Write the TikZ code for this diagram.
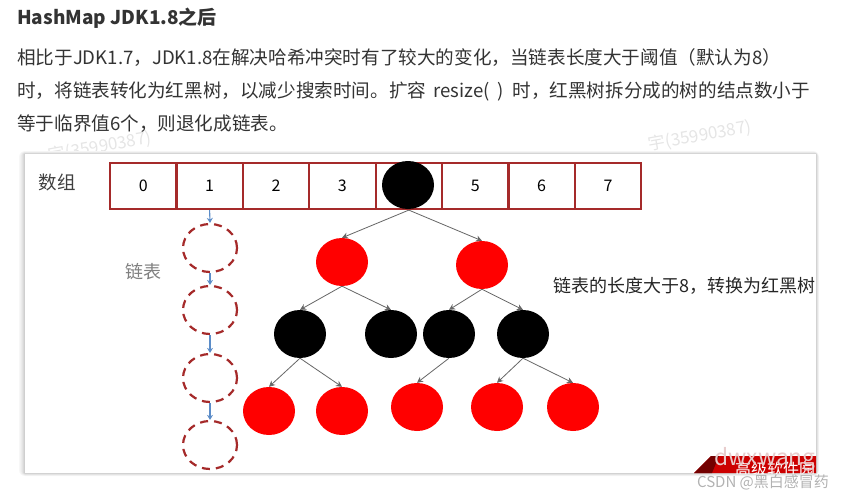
\documentclass[tikz,border=0pt]{standalone}
\usepackage{fontspec}
\setmainfont{Noto Sans CJK SC}
\usetikzlibrary{positioning}
\usetikzlibrary{arrows.meta}
\usetikzlibrary{shapes.geometric}
\definecolor{boxred}{RGB}{165,42,42}
\definecolor{linkblue}{RGB}{91,140,200}
\definecolor{inktext}{RGB}{51,51,51}
\definecolor{authorpink}{RGB}{232,205,205}
\tikzset{
    para/.style={anchor=west,inner sep=0pt,text=inktext,font=\fontsize{18.6}{20}\selectfont},
    cell/.style={draw=boxred,line width=2.2pt,minimum width=66.4pt,minimum height=46pt,inner sep=0pt},
    treenode/.style={ellipse,minimum width=52pt,minimum height=48pt,inner sep=0pt},
    blacknode/.style={treenode,fill=black},
    rednode/.style={treenode,fill=red},
    listnode/.style={ellipse,draw=boxred,line width=2.2pt,dash pattern=on 8pt off 6pt,minimum width=54pt,minimum height=48pt,inner sep=0pt},
    treeedge/.style={black!60,line width=.8pt,-{Stealth[length=6pt,width=6pt]}},
    listedge/.style={linkblue,line width=1.1pt,-{Stealth[length=5pt,width=6pt]}},
    faint/.style={text=black!10,font=\fontsize{17}{20}\selectfont,rotate=10}
}
\begin{document}
\begin{tikzpicture}[x=1pt,y=-1pt]
    \useasboundingbox (0,0) rectangle (841,498);

    % text above the figure
    \node[faint] (mark1) at (100,147) {宇(35990387)};
    \node[faint] (mark2) at (700,136) {宇(35990387)};
    \node[para,font=\fontsize{19}{20}\selectfont\bfseries] (title) at (17,18) {HashMap JDK1.8之后};
    \node[para] (line1) at (17,58) {相比于JDK1.7，JDK1.8在解决哈希冲突时有了较大的变化，当链表长度大于阈值（默认为8）};
    \node[para] (line2) at (17,91) {时，将链表转化为红黑树，以减少搜索时间。扩容\hspace{3pt} resize(\hspace{3pt} )\hspace{5pt} 时，红黑树拆分成的树的结点数小于};
    \node[para] (line3) at (17,124) {等于临界值6个，则退化成链表。};

    % slide
    \foreach \d/\g in {6/3,5/5,4/8,3/11,2/15,1/19}
        \fill[black!\g,rounded corners=\d pt] (25-\d,154-\d/2) rectangle (816+\d/2,473+\d/2);
    \fill[white] (25,154) rectangle (816,473);
    \fill[red!80!black] (711,456) -- (816,456) -- (816,473) -- (694,473) -- cycle;
    \fill[red!45!black] (711,456) -- (719,456) -- (712,473) -- (694,473) -- cycle;

    \node[font=\fontsize{18.5}{20}\selectfont,text=black!75] (arrlabel) at (57,182) {数组};
    \node[font=\fontsize{18}{20}\selectfont,text=black!50] (listlabel) at (143,272) {链表};
    \node[font=\fontsize{18}{20}\selectfont,text=black!85] (treelabel) at (684,286) {链表的长度大于8，转换为红黑树};

    % array
    \foreach \x in {0,...,7}
        \node[cell] (c\x) at (143.2 + 66.4 * \x, 186) {};
    \foreach \x in {0,1,2,3,5,6,7}
        \node[font=\fontsize{16}{18}\selectfont] (v\x) at (c\x) {\x};

    % tree
    \node[blacknode] (root) at (408,185) {};
    \node[rednode] (r1) at (342,262) {};
    \node[rednode] (r2) at (482,265) {};
    \node[blacknode] (b1) at (300,334) {};
    \node[blacknode] (b2) at (391,334) {};
    \node[blacknode] (b3) at (449,334) {};
    \node[blacknode] (b4) at (523,334) {};
    \node[rednode] (l1) at (269,411) {};
    \node[rednode] (l2) at (342,411) {};
    \node[rednode] (l3) at (417,407) {};
    \node[rednode] (l4) at (497,407) {};
    \node[rednode] (l5) at (573,407) {};

    \path[treeedge]
        (c4.south) edge (r1.north)
        (c4.south) edge (r2.north)
        (r1.south) edge (b1.north)
        (r1.south) edge (b2.north)
        (r2.south) edge (b3.north)
        (r2.south) edge (b4.north)
        (b1.south) edge (l1.north)
        (b1.south) edge (l2.north)
        (b3.south) edge (l3.north)
        (b4.south) edge (l4.north)
        (b4.south) edge (l5.north);

    % list
    \foreach \y/\yy in {1/248,2/310,3/378,4/445}
        \node[listnode] (n\y) at (210,\yy) {};

    \path[listedge]
        (c1.south) edge (n1.north)
        (n1.south) edge (n2.north)
        (n2.south) edge (n3.north)
        (n3.south) edge (n4.north);

    % marks at the corner
    \begin{scope}
        \clip (690,440) rectangle (816,473);
        \node[text=white,font=\fontsize{16}{16}\selectfont] (brand) at (775,469) {高级软件园};
    \end{scope}
    \node[text=authorpink,font=\fontsize{22.7}{24}\selectfont] (author) at (765,459) {dwxwang};
    \node[text=black!30,font=\fontsize{15}{16}\selectfont] (csdn) at (763,482) {CSDN @黑白感冒药};
\end{tikzpicture}
\end{document}
